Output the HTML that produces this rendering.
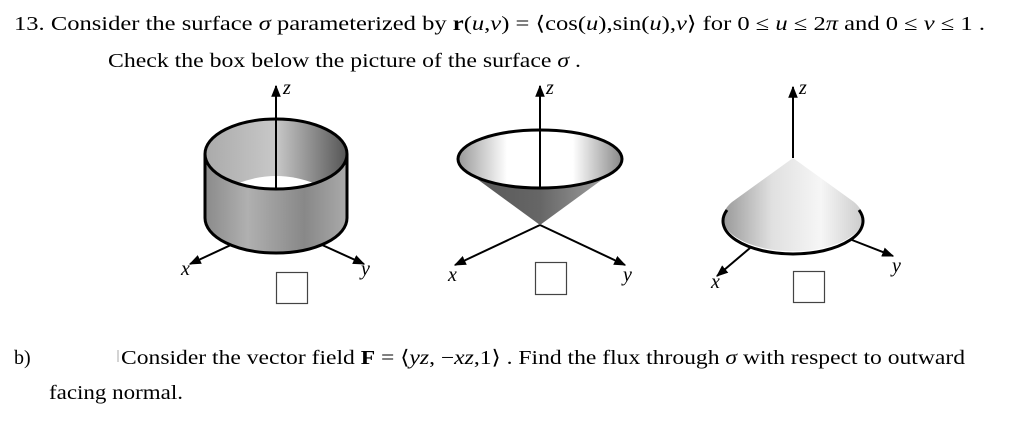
<!DOCTYPE html>
<html><head><meta charset="utf-8"><style>
html,body{margin:0;padding:0;background:#fff;width:1024px;height:429px;overflow:hidden}
svg{display:block}
svg text{font-family:"Liberation Serif","Times New Roman",Times,serif;font-size:20px;fill:#000}
</style></head><body>
<svg width="1024" height="429" viewBox="0 0 1024 429" xmlns="http://www.w3.org/2000/svg" font-family="Liberation Serif, Times New Roman, serif">
<defs>
<linearGradient id="cyl" x1="0" x2="1" y1="0" y2="0">
<stop offset="0" stop-color="#8a8a8a"/><stop offset="0.3" stop-color="#b0b0b0"/><stop offset="0.7" stop-color="#888"/><stop offset="1" stop-color="#aaa"/></linearGradient>
<linearGradient id="cylin" x1="0" x2="1" y1="0" y2="0">
<stop offset="0" stop-color="#aaa"/><stop offset="0.5" stop-color="#c8c8c8"/><stop offset="1" stop-color="#555"/></linearGradient>
<linearGradient id="cone2" x1="0" x2="1" y1="0" y2="0">
<stop offset="0" stop-color="#555"/><stop offset="0.5" stop-color="#666"/><stop offset="1" stop-color="#aaa"/></linearGradient>
<linearGradient id="cone2in" x1="0" x2="1" y1="0" y2="0">
<stop offset="0" stop-color="#999"/><stop offset="0.3" stop-color="#fff"/><stop offset="0.7" stop-color="#fff"/><stop offset="1" stop-color="#888"/></linearGradient>
<linearGradient id="cone3" x1="0" x2="1" y1="0" y2="0">
<stop offset="0" stop-color="#999"/><stop offset="0.35" stop-color="#e0e0e0"/><stop offset="0.7" stop-color="#f6f6f6"/><stop offset="1" stop-color="#ccc"/></linearGradient>
<marker id="ah" viewBox="0 0 10 10" refX="9" refY="5" markerWidth="6" markerHeight="6" orient="auto"><path d="M0,1 L10,5 L0,9 z" fill="#000"/></marker>
</defs>

<text x="14" y="30" textLength="971" lengthAdjust="spacingAndGlyphs">13. Consider the surface <tspan font-style="italic">σ</tspan> parameterized by <tspan font-weight="bold">r</tspan>(<tspan font-style="italic">u</tspan>,<tspan font-style="italic">v</tspan>) = ⟨cos(<tspan font-style="italic">u</tspan>),sin(<tspan font-style="italic">u</tspan>),<tspan font-style="italic">v</tspan>⟩ for 0 ≤ <tspan font-style="italic">u</tspan> ≤ 2<tspan font-style="italic">π</tspan> and 0 ≤ <tspan font-style="italic">v</tspan> ≤ 1 .</text>
<text x="108" y="67" textLength="473" lengthAdjust="spacingAndGlyphs">Check the box below the picture of the surface <tspan font-style="italic">σ</tspan> .</text>

<!-- cylinder -->
<line x1="276" y1="224" x2="190" y2="264" stroke="#000" stroke-width="2" marker-end="url(#ah)"/>
<line x1="276" y1="224" x2="364" y2="264" stroke="#000" stroke-width="2" marker-end="url(#ah)"/>
<path d="M205,154 L205,218 A71,35 0 0 0 347,218 L347,154 A71,35 0 0 1 205,154 Z" fill="url(#cyl)"/>
<path d="M205,154 A71,35 0 0 1 347,154 A71,35 0 0 1 205,154 Z" fill="url(#cylin)"/>
<path d="M236,184 Q276,168 316,184 Q276,192 236,184 Z" fill="#fff"/>
<path d="M205,154 L205,218 A71,35 0 0 0 347,218 L347,154" fill="none" stroke="#000" stroke-width="3"/>
<ellipse cx="276" cy="154" rx="71" ry="35" fill="none" stroke="#000" stroke-width="3"/>
<line x1="276" y1="189" x2="276" y2="86" stroke="#000" stroke-width="2" marker-end="url(#ah)"/>
<text x="283" y="94" font-size="11" font-style="italic">z</text>
<text x="181" y="275" font-size="12" font-style="italic">x</text>
<text x="361" y="275" font-size="12" font-style="italic">y</text>
<rect x="276.5" y="272.5" width="31" height="31" fill="none" stroke="#444" stroke-width="1.2"/>

<!-- cone 2 -->
<line x1="540" y1="225" x2="455" y2="265" stroke="#000" stroke-width="2" marker-end="url(#ah)"/>
<line x1="540" y1="225" x2="625" y2="265" stroke="#000" stroke-width="2" marker-end="url(#ah)"/>
<path d="M462,168 L540,225 L618,168 Z" fill="url(#cone2)"/>
<ellipse cx="540" cy="159" rx="82" ry="29" fill="url(#cone2in)" stroke="#000" stroke-width="3"/>
<line x1="540" y1="188" x2="540" y2="86" stroke="#000" stroke-width="2" marker-end="url(#ah)"/>
<text x="546" y="94" font-size="11" font-style="italic">z</text>
<text x="448" y="281" font-size="12" font-style="italic">x</text>
<text x="623" y="281" font-size="12" font-style="italic">y</text>
<rect x="535.5" y="262.5" width="31" height="32" fill="none" stroke="#444" stroke-width="1.2"/>

<!-- cone 3 -->
<line x1="750" y1="248" x2="717" y2="276" stroke="#000" stroke-width="2" marker-end="url(#ah)"/>
<line x1="852" y1="240" x2="893" y2="256" stroke="#000" stroke-width="2" marker-end="url(#ah)"/>
<path d="M793,158 L732,202 A70,33 0 1 0 854,202 Z" fill="url(#cone3)"/>
<path d="M727,210 A70,33 0 1 0 859,210" fill="none" stroke="#000" stroke-width="3"/>
<line x1="793" y1="158" x2="793" y2="87" stroke="#000" stroke-width="2" marker-end="url(#ah)"/>
<text x="799" y="94" font-size="11" font-style="italic">z</text>
<text x="711" y="288" font-size="12" font-style="italic">x</text>
<text x="892" y="272" font-size="12" font-style="italic">y</text>
<rect x="793.5" y="271.5" width="31" height="31" fill="none" stroke="#444" stroke-width="1.2"/>

<text x="14" y="364">b)</text>
<line x1="118" y1="350" x2="118" y2="362" stroke="#aaa" stroke-width="1"/>
<text x="121" y="364" textLength="844" lengthAdjust="spacingAndGlyphs">Consider the vector field <tspan font-weight="bold">F</tspan> = ⟨<tspan font-style="italic">yz</tspan>, −<tspan font-style="italic">xz</tspan>,1⟩ .  Find the flux through <tspan font-style="italic">σ</tspan> with respect to outward</text>
<text x="49" y="399" textLength="134" lengthAdjust="spacingAndGlyphs">facing normal.</text>
</svg>
</body></html>
